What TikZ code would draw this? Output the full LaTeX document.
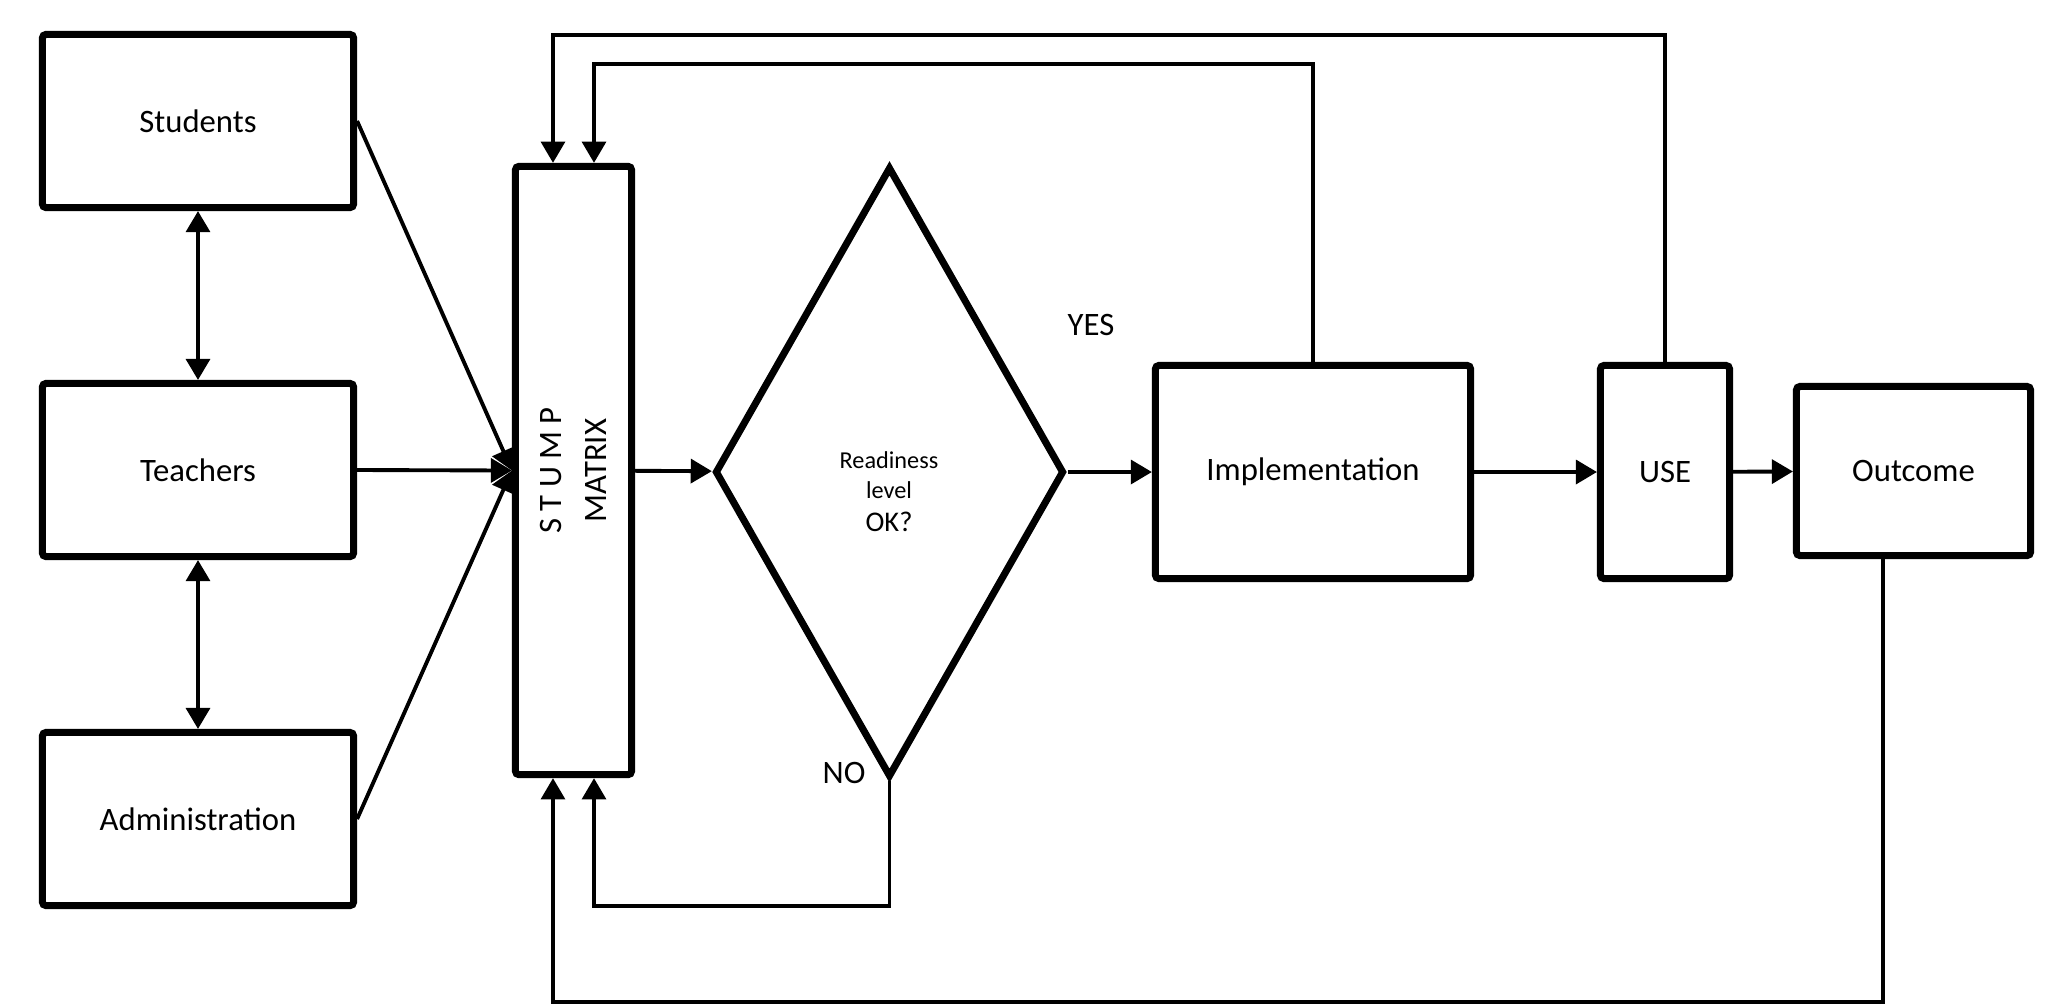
\documentclass[tikz,border=0pt]{standalone}
\usepackage{fontspec}
\setmainfont{Carlito}
\usetikzlibrary{arrows.meta,shapes.geometric}

\begin{document}
\begin{tikzpicture}[x=0.01cm,y=-0.01cm,>={Triangle[length=6pt,width=6.8pt]},
  box/.style={draw,fill=white,line width=2pt,rounded corners=1pt,inner sep=0pt,
    font=\fontsize{9.3}{11}\selectfont},
  link/.style={line width=1.1pt},
  back/.style={line width=0.9pt}]
  \useasboundingbox (0,0) rectangle (2048,1005);
  \node[box,minimum width=3.11cm,minimum height=1.73cm] (stud) at (198,121) {Students};
  \node[box,minimum width=3.11cm,minimum height=1.73cm] (teach) at (198,470) {Teachers};
  \node[box,minimum width=3.11cm,minimum height=1.73cm] (adm) at (198,819) {Administration};
  \node[box,minimum width=1.16cm,minimum height=6.08cm] (stump) at (573.5,470.5) {};
  \node[rotate=90,align=center,font=\fontsize{9.3}{12.8}\selectfont] (stumptext) at (stump.center) {S T U M P\\MATRIX};
  \node[draw,diamond,line width=2pt,inner sep=0pt,minimum width=3.49cm,minimum height=6.10cm] (dia) at (889.5,472) {};
  \node[align=center,font=\fontsize{6.9}{8.5}\selectfont] (ready) at (889,492) {Readiness\\level\\[1pt]{\fontsize{8.1}{9.7}\selectfont OK?}};
  \node[box,minimum width=3.15cm,minimum height=2.13cm] (impl) at (1313,472) {Implementation};
  \node[box,minimum width=1.29cm,minimum height=2.13cm] (use) at (1665,472) {USE};
  \node[box,minimum width=2.34cm,minimum height=1.69cm] (out) at (1913.5,471) {Outcome};
  \node[font=\fontsize{9.3}{11}\selectfont] (yes) at (1091,325) {YES};
  \node[font=\fontsize{9.3}{11}\selectfont] (no) at (844,773) {NO};
  \coordinate (topA) at (0,35);
  \coordinate (topB) at (0,64);
  \coordinate (botA) at (0,906);
  \coordinate (botB) at (0,1002);
  \coordinate (outfoot) at ([xshift=-3.05mm]out.south);
  \draw[link,<->] (stud) -- (teach);
  \draw[link,<->] (teach) -- (adm);
  \draw[link,->] (stud.east) -- (stump.west);
  \draw[link,->] (teach.east) -- (stump.west);
  \draw[link,->] (adm.east) -- (stump.west);
  \draw[link,->] (stump) -- (dia);
  \draw[link,->] (dia) -- (impl);
  \draw[link,->] (impl) -- (use);
  \draw[link,->] (use) -- (out);
  \draw[back,->] (impl.north) -- (impl.north |- topB) -| ([xshift=2.05mm]stump.north);
  \draw[back,->] (use.north) -- (use.north |- topA) -| ([xshift=-2.05mm]stump.north);
  \draw[back,->] (dia.south) -- (dia.south |- botA) -| ([xshift=2.05mm]stump.south);
  \draw[back,->] (outfoot) -- (outfoot |- botB) -| ([xshift=-2.05mm]stump.south);
\end{tikzpicture}
\end{document}
